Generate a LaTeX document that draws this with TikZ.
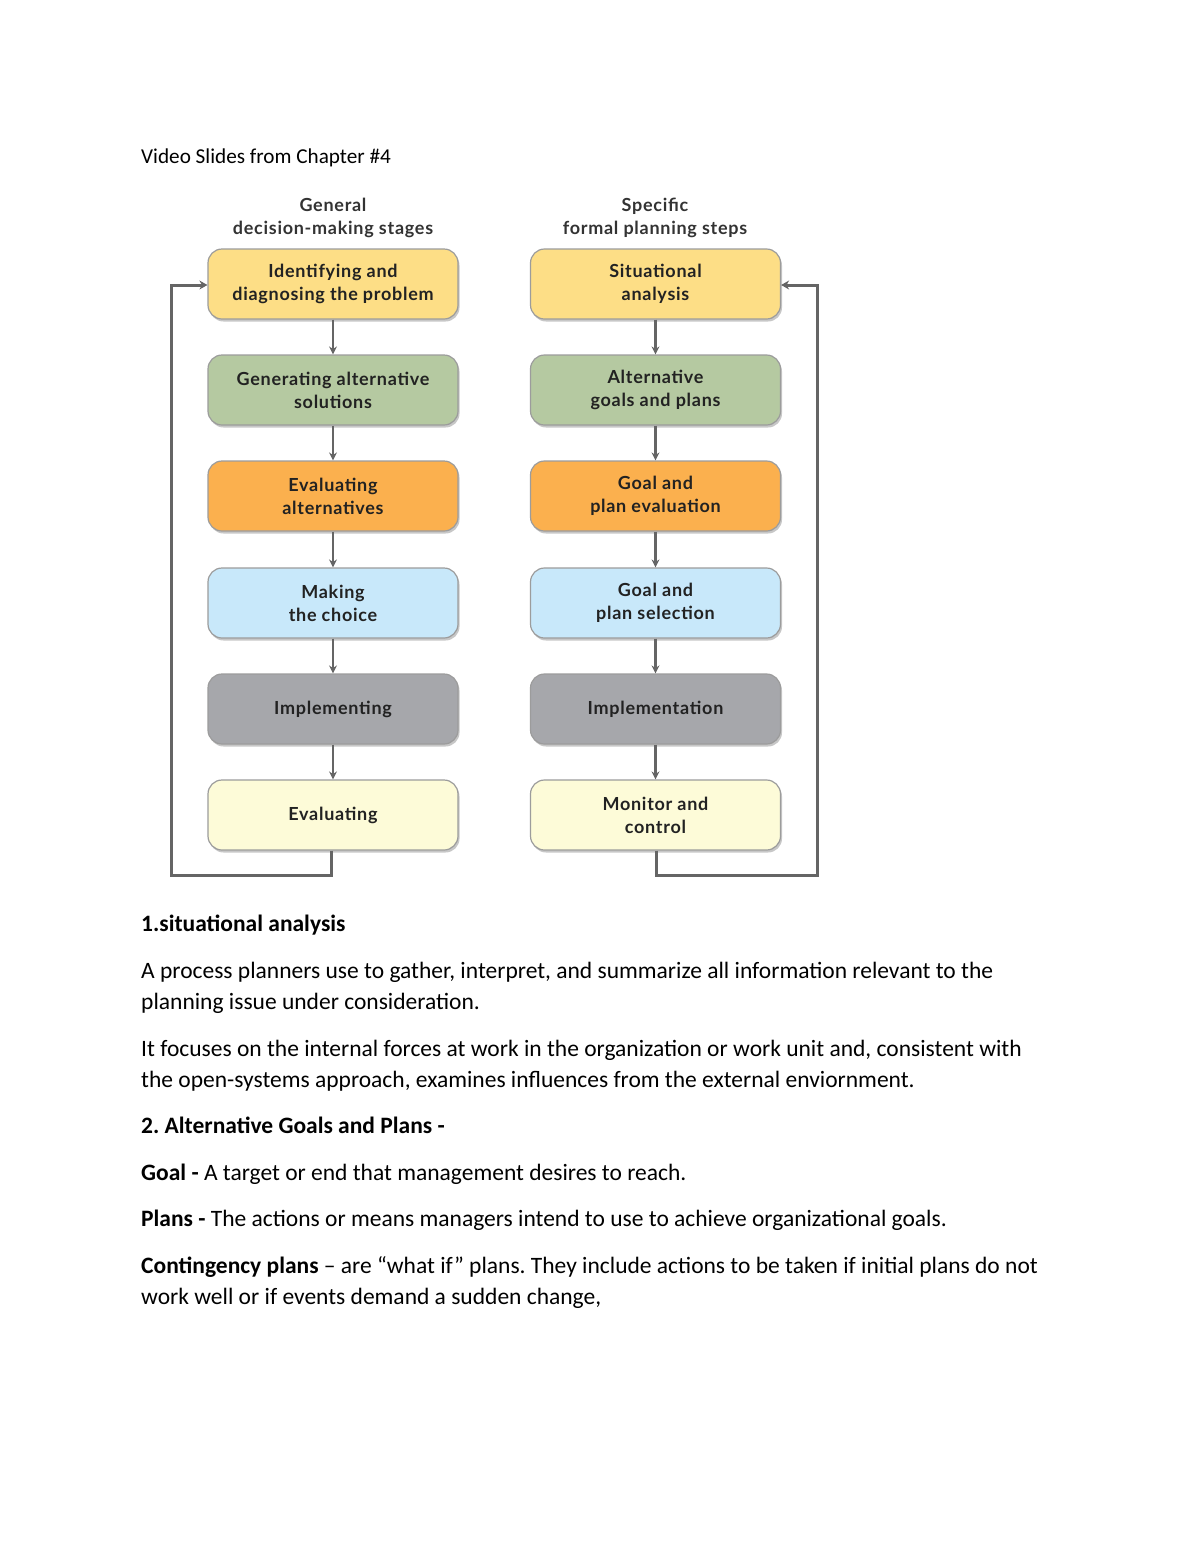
\documentclass[tikz,border=0pt]{standalone}
\usepackage{fontspec}
\setmainfont{Carlito}
\newfontfamily\diagfont[LetterSpace=4]{Lato}
\usetikzlibrary{shadows,arrows.meta}
\definecolor{cYel}{HTML}{FDDE86}
\definecolor{cGrn}{HTML}{B5C9A1}
\definecolor{cOra}{HTML}{FBB04E}
\definecolor{cBlu}{HTML}{C8E8FA}
\definecolor{cGry}{HTML}{A6A7AB}
\definecolor{cPal}{HTML}{FDFBD8}
\definecolor{cEdge}{HTML}{9C9C9C}
\definecolor{cLine}{HTML}{656565}
\definecolor{cTxt}{HTML}{222222}
\definecolor{cHead}{HTML}{333333}
\tikzset{
  stagebox/.style={draw=cEdge, line width=1.2pt, rounded corners=14pt,
    minimum width=250pt, minimum height=70pt, inner sep=0pt,
    align=center, text=cTxt,
    font=\diagfont\bfseries\fontsize{18}{23}\selectfont,
    drop shadow={shadow xshift=1.5pt, shadow yshift=-2.5pt, opacity=0.22, fill=black}},
  head/.style={align=center, text=cHead, font=\diagfont\bfseries\fontsize{18}{23}\selectfont},
  flow/.style={draw=cLine, line width=2.4pt, -{Stealth[length=8pt,width=8pt]}},
  looparrow/.style={draw=cLine, line width=3pt, -{Stealth[length=8pt,width=9pt]}},
  body/.style={anchor=base west, inner sep=0pt, text=black, font=\fontsize{23.5}{31}\selectfont},
}
\begin{document}
\frenchspacing
\begin{tikzpicture}[x=1pt,y=-1pt]
\useasboundingbox[fill=white] (0,0) rectangle (1200,1553);

\node[body, font=\fontsize{21.2}{26}\selectfont] (title) at (141,163) {Video Slides from Chapter \#4};

\node[head] (hl) at (333,217.5) {General\\decision-making stages};
\node[head] (hr) at (655,217.5) {Specific\\formal planning steps};

% left column
\node[stagebox, fill=cYel] (l1) at (333,284) {Identifying and\\diagnosing the problem};
\node[stagebox, fill=cGrn] (l2) at (333,390) {Generating alternative\\solutions};
\node[stagebox, fill=cOra] (l3) at (333,496) {Evaluating\\alternatives};
\node[stagebox, fill=cBlu] (l4) at (333,603) {Making\\the choice};
\node[stagebox, fill=cGry] (l5) at (333,709) {Implementing};
\node[stagebox, fill=cPal] (l6) at (333,815) {Evaluating};

% right column
\node[stagebox, fill=cYel] (r1) at (655.5,284) {Situational\\analysis};
\node[stagebox, fill=cGrn] (r2) at (655.5,390) {Alternative\\goals and plans};
\node[stagebox, fill=cOra] (r3) at (655.5,496) {Goal and\\plan evaluation};
\node[stagebox, fill=cBlu] (r4) at (655.5,603) {Goal and\\plan selection};
\node[stagebox, fill=cGry] (r5) at (655.5,709) {Implementation};
\node[stagebox, fill=cPal] (r6) at (655.5,815) {Monitor and\\control};

\foreach \a/\b in {l1/l2,l2/l3,l3/l4,l4/l5,l5/l6,r1/r2,r2/r3,r3/r4,r4/r5,r5/r6}{
  \draw[flow] (\a.south) -- (\b.north);
}

\coordinate (lA) at (331,875);
\coordinate (lB) at (171,875);
\coordinate (lC) at (171,285);
\draw[looparrow] (l6.south -| lA) -- (lA) -- (lB) -- (lC) -- (l1.west |- lC);

\coordinate (rA) at (656,875);
\coordinate (rB) at (817,875);
\coordinate (rC) at (817,285);
\draw[looparrow] (r6.south -| rA) -- (rA) -- (rB) -- (rC) -- (r1.east |- rC);

% text block
\node[body] (t1) at (141,931) {\textbf{1.situational analysis}};
\node[body] (t2) at (141,978) {A process planners use to gather, interpret, and summarize all information relevant to the};
\node[body] (t3) at (141,1009) {planning issue under consideration.};
\node[body] (t4) at (141,1056) {It focuses on the internal forces at work in the organization or work unit and, consistent with};
\node[body] (t5) at (141,1087) {the open-systems approach, examines influences from the external enviornment.};
\node[body] (t6) at (141,1133) {\textbf{2. Alternative Goals and Plans -}};
\node[body] (t7) at (141,1180) {\textbf{Goal -} A target or end that management desires to reach.};
\node[body] (t8) at (141,1226) {\textbf{Plans -} The actions or means managers intend to use to achieve organizational goals.};
\node[body] (t9) at (141,1273) {\textbf{Contingency plans} – are “what if” plans. They include actions to be taken if initial plans do not};
\node[body] (t10) at (141,1304) {work well or if events demand a sudden change,};
\end{tikzpicture}
\end{document}
